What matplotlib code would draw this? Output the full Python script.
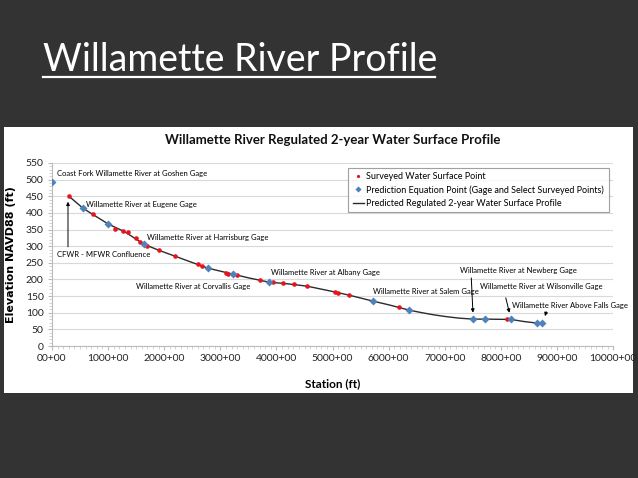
import matplotlib.pyplot as plt
from matplotlib.lines import Line2D
from matplotlib.patches import Rectangle
from matplotlib.ticker import MultipleLocator

# surveyed water surface points (station in 100 ft units, elevation ft)
surv_sta = [303, 731, 1123, 1266, 1355, 1497, 1569, 1693, 1907, 2193, 2602, 2674,
            3102, 3130, 3298, 3708, 3940, 4118, 4314, 4545, 5045, 5098, 5294, 6185, 8110]
surv_elev = [450, 396, 351, 345, 342, 324, 312, 300, 288, 270, 246, 240,
             219, 218, 213, 198, 192, 189, 186, 180, 162, 159, 153, 117, 81]

# prediction equation points (gages and select surveyed points)
pred_sta = [0, 553, 998, 1640, 2780, 3226, 3868, 5722, 6364, 7504, 7718, 8182, 8645, 8734]
pred_elev = [493, 414, 367, 306, 234, 216, 192, 135, 108, 81, 81, 80, 69, 69]

# predicted regulated 2-year profile
prof_sta = [303, 553, 998, 1300, 1640, 1900, 2193, 2500, 2780, 3226, 3500, 3868, 4200,
            4545, 5000, 5294, 5722, 6000, 6364, 6600, 6800, 7000, 7250, 7504, 7718, 8182,
            8400, 8645, 8734]
prof_elev = [450, 414, 367, 343, 306, 288, 270, 251, 234, 216, 205, 192, 187,
             180, 164, 153, 135, 124, 108, 100, 94, 89, 84, 81, 81, 80,
             74, 69, 69]

xticks = list(range(0, 10001, 1000))
xtick_labels = ["00+00"] + [f"{v}+00" for v in xticks[1:]]
yticks = list(range(0, 551, 50))

ann_font = ['Liberation Sans Narrow', 'Lato', 'DejaVu Sans']
lab_font = ['Liberation Sans Narrow', 'Lato', 'DejaVu Sans']

fig = plt.figure(figsize=(6.38, 4.78), dpi=100)
fig.patch.set_facecolor('#333333')

# white chart panel
fig.patches.append(Rectangle((0.0063, 0.178), 0.986, 0.556, transform=fig.transFigure,
                             facecolor='white', edgecolor='none', zorder=-1))

# slide title
fig.text(0.067, 0.852, "Willamette River Profile", color='white', fontsize=27,
         family=['Lato', 'DejaVu Sans'], ha='left', va='baseline')
fig.lines.append(Line2D([0.067, 0.682], [0.838, 0.838], transform=fig.transFigure,
                        color='white', lw=1.6))

ax = fig.add_axes([0.0815, 0.276, 0.8795, 0.383])
ax.set_facecolor('white')

ax.plot(prof_sta, prof_elev, color='#2b2b2b', lw=1.0, zorder=2,
        label='Predicted Regulated 2-year Water Surface Profile')
ax.plot(surv_sta, surv_elev, 'o', color='#e8141c', ms=3.3, mec='none', zorder=3,
        label='Surveyed Water Surface Point')
ax.plot(pred_sta, pred_elev, 'D', color='#4f81bd', ms=4.5, mec='none', zorder=4,
        label='Prediction Equation Point (Gage and Select Surveyed Points)')

ax.set_xlim(0, 10000)
ax.set_ylim(0, 550)
ax.set_xticks(xticks)
ax.set_xticklabels(xtick_labels)
ax.set_yticks(yticks)
ax.xaxis.set_minor_locator(MultipleLocator(100))
ax.yaxis.set_minor_locator(MultipleLocator(10))
ax.tick_params(axis='both', which='major', length=3, color='#bbbbbb', labelsize=7.5,
               labelcolor='#222222', pad=3)
ax.tick_params(axis='both', which='minor', length=2, color='#cccccc')
for lab in ax.get_xticklabels() + ax.get_yticklabels():
    lab.set_family(lab_font)
ax.grid(axis='y', which='major', color='#d9d9d9', lw=0.8)
for s in ['top', 'right']:
    ax.spines[s].set_visible(False)
for s in ['left', 'bottom']:
    ax.spines[s].set_color('#bbbbbb')

ax.set_xlabel("Station (ft)", fontsize=8.5, fontweight='bold', family=lab_font, labelpad=11)
ax.set_ylabel("Elevation NAVD88 (ft)", fontsize=8, fontweight='bold',
              family=['Verdana', 'DejaVu Sans'], labelpad=7)

ax.set_title("Willamette River Regulated 2-year Water Surface Profile", fontsize=9.5,
             fontweight='bold', family=lab_font, pad=14, color='#111111')

h, l = ax.get_legend_handles_labels()
leg = ax.legend([h[1], h[2], h[0]], [l[1], l[2], l[0]], loc='upper right',
                bbox_to_anchor=(1.0, 1.0), frameon=True, fancybox=False, markerscale=0.7,
                handlelength=1.2, handletextpad=0.3, borderpad=0.5, labelspacing=0.45,
                prop={'family': ann_font, 'size': 6.5})
leg.get_frame().set_edgecolor('#888888')
leg.get_frame().set_linewidth(0.8)

afs = 5.5
ax.text(90, 519, "Coast Fork Willamette River at Goshen Gage", fontsize=afs, family=ann_font, va='center')
ax.text(610, 426, "Willamette River at Eugene Gage", fontsize=afs, family=ann_font, va='center')
ax.text(1693, 327, "Willamette River at Harrisburg Gage", fontsize=afs, family=ann_font, va='center')
ax.text(90, 276, "CFWR - MFWR Confluence", fontsize=afs, family=ann_font, va='center')
ax.text(1497, 180, "Willamette River at Corvallis Gage", fontsize=afs, family=ann_font, va='center')
ax.text(3904, 222, "Willamette River at Albany Gage", fontsize=afs, family=ann_font, va='center')
ax.text(5722, 165, "Willamette River at Salem Gage", fontsize=afs, family=ann_font, va='center')
ax.text(7273, 228, "Willamette River at Newberg Gage", fontsize=afs, family=ann_font, va='center')
ax.text(7629, 180, "Willamette River at Wilsonville Gage", fontsize=afs, family=ann_font, va='center')
ax.text(8200, 123, "Willamette River Above Falls Gage", fontsize=afs, family=ann_font, va='center')

arrow = dict(arrowstyle='-|>', color='black', lw=0.7, mutation_scale=5)
ax.annotate("", xy=(285, 442), xytext=(285, 290), arrowprops=arrow)
ax.annotate("", xy=(7504, 92), xytext=(7470, 213), arrowprops=arrow)
ax.annotate("", xy=(8164, 92), xytext=(8075, 153), arrowprops=arrow)
ax.annotate("", xy=(8770, 82), xytext=(8824, 111), arrowprops=arrow)

fig.savefig("out.png", dpi=100, facecolor=fig.get_facecolor())
